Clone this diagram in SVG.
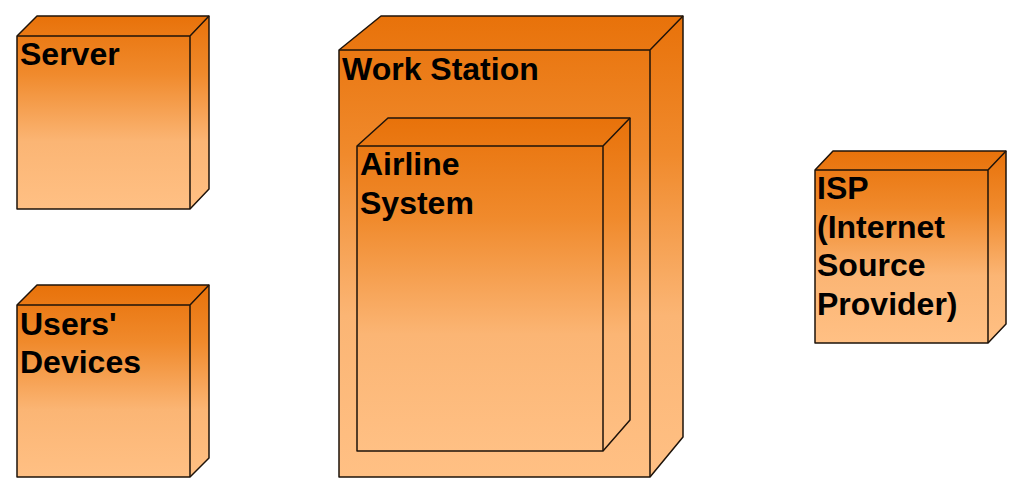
<svg xmlns="http://www.w3.org/2000/svg" width="1024" height="495" viewBox="0 0 1024 495">
<defs>
<linearGradient id="g" x1="0" y1="0" x2="0" y2="1">
<stop offset="0" stop-color="#E8720A"/>
<stop offset="0.3" stop-color="#F08A2C"/>
<stop offset="0.65" stop-color="#FBB574"/>
<stop offset="1" stop-color="#FFC084"/>
</linearGradient>
</defs>
<style>
.body{fill:url(#g);stroke:#1e130a;stroke-width:1.5;stroke-linejoin:round}
.edge{fill:none;stroke:#1e130a;stroke-width:1.5;stroke-linejoin:round}
.lbl{font-family:"Liberation Sans",Arial,sans-serif;font-weight:bold;font-size:32px;fill:#000}
</style>
<rect width="1024" height="495" fill="#fff"/>
<g id="server">
<path class="body" d="M17,209 L17,36 L37,16 L209,16 L209,189 L190,209 Z"/>
<path class="edge" d="M17,36 L190,36 L209,16 M190,36 L190,209"/>
<text class="lbl" x="20" y="65">Server</text>
</g>
<g id="users-devices">
<path class="body" d="M17,477 L17,305 L37,285 L209,285 L209,458 L190,477 Z"/>
<path class="edge" d="M17,305 L190,305 L209,285 M190,305 L190,477"/>
<text class="lbl" x="20" y="335">Users'</text>
<text class="lbl" x="20" y="373">Devices</text>
</g>
<g id="work-station">
<path class="body" d="M339,477 L339,50 L381,16 L683,16 L683,437 L650,477 Z"/>
<path class="edge" d="M339,50 L650,50 L683,16 M650,50 L650,477"/>
<text class="lbl" x="342" y="80">Work Station</text>
</g>
<g id="airline-system">
<path class="body" d="M357,451 L357,146 L388,118 L630,118 L630,420 L603,451 Z"/>
<path class="edge" d="M357,146 L603,146 L630,118 M603,146 L603,451"/>
<text class="lbl" x="360" y="175">Airline</text>
<text class="lbl" x="360" y="214">System</text>
</g>
<g id="isp">
<path class="body" d="M815,343 L815,170 L833,151 L1006,151 L1006,324 L988,343 Z"/>
<path class="edge" d="M815,170 L988,170 L1006,151 M988,170 L988,343"/>
<text class="lbl" x="817" y="199">ISP</text>
<text class="lbl" x="817" y="238">(Internet</text>
<text class="lbl" x="817" y="276">Source</text>
<text class="lbl" x="817" y="315">Provider)</text>
</g>
<g id="connectors"></g>
</svg>
